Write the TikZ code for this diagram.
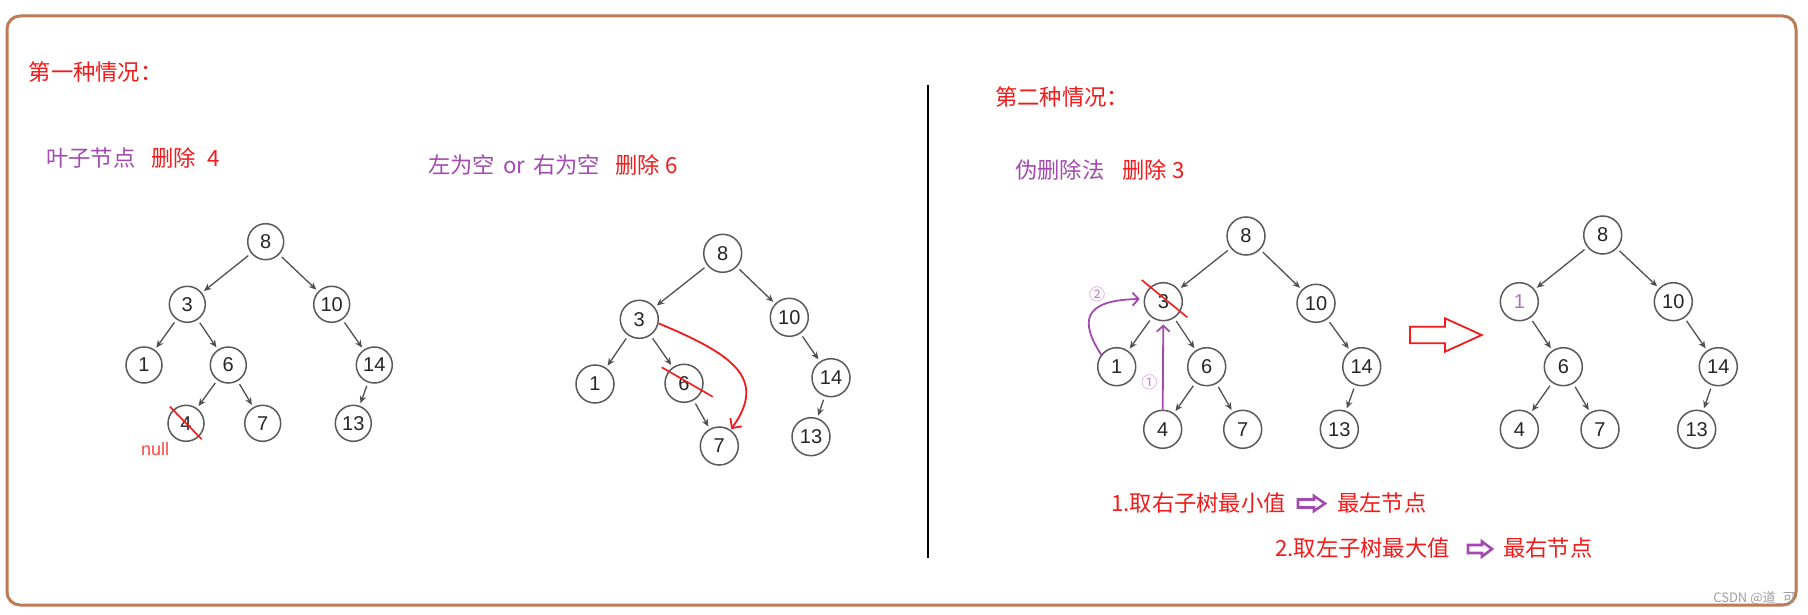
\documentclass[tikz,border=0pt]{standalone}
\usepackage{fontspec}
\newfontfamily\cjk{Noto Sans CJK SC}
\newfontfamily\arial{Liberation Sans}
\usetikzlibrary{arrows.meta}
\definecolor{bordc}{HTML}{BC7A56}
\definecolor{myred}{HTML}{F21A1A}
\definecolor{mypurp}{HTML}{A34AB0}
\definecolor{lpurp}{HTML}{C47ED0}
\definecolor{nodec}{HTML}{5A5A5A}
\definecolor{edgec}{HTML}{505050}
\begin{document}
\begin{tikzpicture}[x=1pt,y=-1pt,
  tn/.style={circle, draw=nodec, line width=1.5pt, minimum size=38pt, inner sep=0pt,
    font=\arial\fontsize{20}{22}\selectfont, text=black!85},
  tnS/.style={tn, minimum size=36pt},
  ed/.style={draw=edgec, line width=1.3pt, -{Stealth[length=7.5pt,width=6.5pt]}, shorten <=3.5pt, shorten >=2.5pt},
  txt/.style={font=\cjk\fontsize{22.3}{26}\selectfont, inner sep=0pt, anchor=west},
  redtxt/.style={txt, text=myred},
  purtxt/.style={txt, text=mypurp},
  cross/.style={draw=myred, line width=1.6pt},
  fatarrow/.style={draw=mypurp, line width=2.6pt, fill=white, line join=miter},
  purarrow/.style={draw=mypurp, line width=1.8pt, -{Straight Barb[length=6pt,width=13pt]}},
  circnum/.style={font=\cjk\fontsize{16}{18}\selectfont, text=lpurp, inner sep=0pt}
]
\useasboundingbox (0,0) rectangle (1808,615);
\fill[white] (0,0) rectangle (1808,615);
\draw[bordc, line width=3pt, rounded corners=13pt] (7,16) rectangle (1796,605);

% divider
\coordinate (d1) at (928,85);
\coordinate (d2) at (928,558);
\draw[black, line width=1.5pt] (d1) -- (d2);

% headings
\node[redtxt] (h1) at (28.5,72) {第一种情况：};
\node[purtxt] (l1) at (46,158) {叶子节点};
\node[redtxt] (r1) at (151,158) {删除\hspace{12pt}4};
\node[purtxt] (l2) at (428,165) {左为空\hspace{8pt}or\hspace{8pt}右为空};
\node[redtxt] (r2) at (615,165) {删除\hspace{6pt}6};
\node[redtxt] (h2) at (995,97) {第二种情况：};
\node[purtxt] (l3) at (1015,170) {伪删除法};
\node[redtxt] (r3) at (1122,170) {删除\hspace{6pt}3};

% tree 1
\node[tnS] (a8) at (265.7,241.7) {8};
\node[tnS] (a3) at (187.3,304.3) {3};
\node[tnS] (a10) at (331.7,304.3) {10};
\node[tnS] (a1) at (144,365) {1};
\node[tnS] (a6) at (228.3,365) {6};
\node[tnS] (a14) at (374.3,365) {14};
\node[tnS] (a4) at (186,423.3) {4};
\node[tnS] (a7) at (262.7,423.3) {7};
\node[tnS] (a13) at (353.3,423.3) {13};
\draw[ed] (a8) -- (a3);
\draw[ed] (a8) -- (a10);
\draw[ed] (a3) -- (a1);
\draw[ed] (a3) -- (a6);
\draw[ed] (a10) -- (a14);
\draw[ed] (a6) -- (a4);
\draw[ed] (a6) -- (a7);
\draw[ed] (a14) -- (a13);
\coordinate (c1a) at (170,406.7);
\coordinate (c1b) at (201.7,439.3);
\draw[cross] (c1a) -- (c1b);
\node[font=\arial\fontsize{18}{20}\selectfont, text=myred!80, inner sep=0pt, anchor=west] (nul) at (141,449) {null};

% tree 2
\node[tn] (b8) at (722.7,253.3) {8};
\node[tn] (b3) at (639.3,319.3) {3};
\node[tn] (b10) at (789.3,317.3) {10};
\node[tn] (b1) at (595,384) {1};
\node[tn] (b6) at (684,383.3) {6};
\node[tn] (b14) at (831,377.7) {14};
\node[tn] (b7) at (719.3,446) {7};
\node[tn] (b13) at (811,436.7) {13};
\draw[ed] (b8) -- (b3);
\draw[ed] (b8) -- (b10);
\draw[ed] (b3) -- (b1);
\draw[ed] (b3) -- (b6);
\draw[ed] (b10) -- (b14);
\draw[ed] (b6) -- (b7);
\draw[ed] (b14) -- (b13);
\coordinate (c2a) at (661.7,367.3);
\coordinate (c2b) at (712.7,396.7);
\draw[cross] (c2a) -- (c2b);
\draw[draw=myred, line width=1.8pt, -{Straight Barb[length=7pt,width=14pt]}, shorten >=1pt]
  (b3.-12) .. controls (732,354) and (768,378) .. (b7.55);

% tree 3
\node[tn] (e8) at (1246,236) {8};
\node[tn] (e3) at (1163.3,301.7) {3};
\node[tn] (e10) at (1316,303.3) {10};
\node[tn] (e1) at (1116.7,366.7) {1};
\node[tn] (e6) at (1206.7,366.7) {6};
\node[tn] (e14) at (1361.7,366.7) {14};
\node[tn] (e4) at (1162.7,429.3) {4};
\node[tn] (e7) at (1242.7,429.3) {7};
\node[tn] (e13) at (1339.3,429.3) {13};
\draw[ed] (e8) -- (e3);
\draw[ed] (e8) -- (e10);
\draw[ed] (e3) -- (e1);
\draw[ed] (e3) -- (e6);
\draw[ed] (e10) -- (e14);
\draw[ed] (e6) -- (e4);
\draw[ed] (e6) -- (e7);
\draw[ed] (e14) -- (e13);
\coordinate (c3a) at (1141.7,280);
\coordinate (c3b) at (1187.3,317.3);
\draw[cross] (c3a) -- (c3b);
\draw[purarrow, shorten >=3pt] (e4.north) -- (e3.south);
\node[circnum] (n1) at (1149.3,382) {①};
\draw[purarrow, shorten >=4pt] (e1.142) .. controls (1080,322) and (1082,300) .. (e3.172);
\node[circnum] (n2) at (1097,294) {②};

% big arrow
\draw[draw=myred, line width=1.8pt, line join=miter, fill=white]
  (1410,326.7) -- (1445,326.7) -- (1445,318.3) -- (1481.7,335) -- (1445,351.7) -- (1445,343.3) -- (1410,343.3) -- cycle;

% tree 4
\node[tn] (f8) at (1602.7,235) {8};
\node[tn, text=lpurp!90!black] (f1) at (1519.3,301.7) {1};
\node[tn] (f10) at (1673.3,301.7) {10};
\node[tn] (f6) at (1563.3,366.7) {6};
\node[tn] (f14) at (1718.3,366.7) {14};
\node[tn] (f4) at (1519.3,429.3) {4};
\node[tn] (f7) at (1600,429.3) {7};
\node[tn] (f13) at (1696.7,429.3) {13};
\draw[ed] (f8) -- (f1);
\draw[ed] (f8) -- (f10);
\draw[ed] (f1) -- (f6);
\draw[ed] (f10) -- (f14);
\draw[ed] (f6) -- (f4);
\draw[ed] (f6) -- (f7);
\draw[ed] (f14) -- (f13);

% bottom notes
\node[redtxt] (s1) at (1111,503) {1.取右子树最小值};
\draw[fatarrow] (1298,499.5) -- (1314,499.5) -- (1314,496) -- (1325,503.5) -- (1314,511) -- (1314,507.5) -- (1298,507.5) -- cycle;
\node[redtxt] (s1b) at (1337,503) {最左节点};
\node[redtxt] (s2) at (1275,548) {2.取左子树最大值};
\draw[fatarrow] (1468,545) -- (1482,545) -- (1482,541.5) -- (1492,549) -- (1482,556.5) -- (1482,553) -- (1468,553) -- cycle;
\node[redtxt] (s2b) at (1503,548) {最右节点};

% watermark
\node[font=\cjk\fontsize{13}{15}\selectfont, text=gray!75, anchor=east, inner sep=0pt] (wm) at (1796,598) {CSDN @道\_可};
\end{tikzpicture}
\end{document}
